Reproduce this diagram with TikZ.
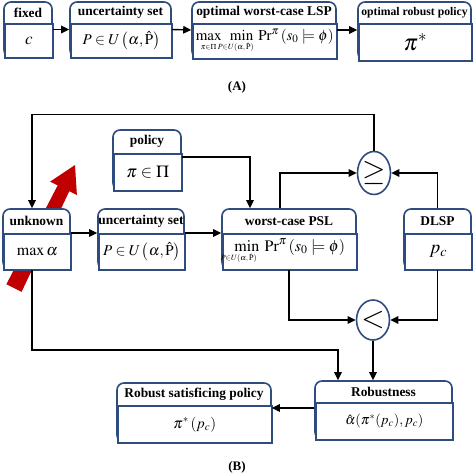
\documentclass[tikz,border=0pt]{standalone}
\usepackage{mathptmx}
\usepackage[no-math]{fontspec}
\setmainfont{Liberation Serif}
\usetikzlibrary{arrows.meta,shapes.geometric}
\definecolor{boxblue}{HTML}{2E4C7E}
\definecolor{redarr}{HTML}{C00000}
\tikzset{
 boxouter/.style={draw=boxblue, line width=1.6pt, fill=white, rounded corners=7pt, inner sep=0pt},
 boxbody/.style={draw=boxblue, line width=1.6pt, fill=white, inner sep=0pt},
 hdrtext/.style={font=\bfseries\fontsize{13.4}{14}\selectfont, inner sep=0pt},
 arr/.style={line width=1.4pt, -{Triangle[length=8pt,width=7.5pt]}},
 cmp/.style={ellipse, draw=boxblue, line width=1.6pt, fill=white, inner sep=0pt},
 lbl/.style={font=\bfseries\fontsize{13}{14}\selectfont, inner sep=0pt},
}
\newcommand\umlbox[8]{%
 \node[boxouter, minimum width={(#4-#2)*1pt}, minimum height={(#5-#3)*1pt}] (#1) at ({(#2+#4)/2},{(#3+#5)/2}) {};
 \node[boxbody, anchor=north west, minimum width={(#4-#2)*1pt}, minimum height={(#5-#6)*1pt}] (#1-b) at (#2,#6) {#8};
 \node[hdrtext] (#1-h) at ({(#2+#4)/2},{(#3+#6)/2}) {#7};
}
\newcommand\fs[1]{\fontsize{#1}{#1}\selectfont}
\newcommand\minsub[1]{\makebox[0pt][l]{\kern#1\fs{8}$P{\in}U(\alpha,\hat{\mathrm P})$}}
\newcommand\maxsub{\makebox[0pt]{\fs{7.5}$\pi{\in}\Pi$}}
\newcommand\prphi{\Pr\nolimits^{\pi}\left(s_0\models\phi\right)}
\begin{document}
\begin{tikzpicture}[x=1pt,y=-1pt]
\useasboundingbox (0,0) rectangle (474,474);
% red arrow (behind boxes)
\fill[redarr] (6.4,284.2) -- (57.7,185.4) -- (50.1,181.6) -- (75,165) -- (76.9,195) -- (69.3,191.2) -- (21.6,291.8) -- cycle;
% (A)
\umlbox{fixed}{4}{2}{52}{57}{23}{fixed}{\fs{17}$c$}
\umlbox{uncA}{70}{2}{171}{57}{23}{uncertainty set}{\fs{15}$P\in U\left(\alpha,\hat{\mathrm{P}}\right)$}
\umlbox{lsp}{192}{2}{336}{58}{23}{optimal worst-case LSP}{\fs{15}$\max\limits_{\maxsub}\;\;\mathop{\min}\limits_{\minsub{-12pt}}\;\prphi$}
\umlbox{robA}{358}{2}{471}{60}{23}{\fontsize{11.7}{13}\selectfont optimal robust policy}{\fs{23}$\pi^{*}$}
\draw[arr] (fixed.east) -- (uncA.west);
\draw[arr] (uncA.east) -- (lsp.west);
\draw[arr] (lsp.east) -- (robA.west |- lsp.east);
\node[lbl] (labA) at (237,87) {(A)};
% (B)
\umlbox{policy}{113}{130}{181}{190}{153}{policy}{\fs{17}$\pi\in\Pi$}
\umlbox{unknown}{3}{209}{70}{269}{233}{unknown}{\fs{16}$\mathrm{max}\,\alpha$}
\umlbox{uncB}{98}{209}{184}{269}{233}{uncertainty set}{\fs{15}$P\in U\left(\alpha,\hat{\mathrm{P}}\right)$}
\umlbox{worst}{222}{209}{356}{269}{233}{worst-case PSL}{\fs{16}$\mathop{\min}\limits_{\minsub{-15pt}}\;\prphi$}
\umlbox{dlsp}{404}{209}{471}{269}{233}{DLSP}{\fs{19}$p_c$}
\umlbox{rob}{315}{381}{452}{439}{402}{Robustness}{\fs{14}$\hat{\alpha}\!\left(\pi^{*}(p_c),p_c\right)$}
\umlbox{rsp}{117}{383}{271}{442}{405}{Robust satisficing policy}{\fs{15}$\pi^{*}\left(p_c\right)$}
\node[cmp, minimum width=33pt, minimum height=43pt] (ge) at (374,173) {\fs{30}$\geq$};
\node[cmp, minimum width=32pt, minimum height=40pt] (lt) at (373,320) {\fs{30}$<$};
% connectors
\draw[arr] (ge.north) -- ++(0,-36.5) -| ([xshift=-4.5pt]unknown.north);
\draw[arr] ([yshift=3pt]policy.east) -| ([xshift=-39pt]worst.north);
\draw[arr] ([xshift=-9pt]worst.north) |- (ge.west);
\draw[arr] (dlsp.north) |- (ge.east);
\draw[arr] ([yshift=6pt]unknown.east) -- ([yshift=6pt]uncB.west);
\draw[arr] ([yshift=6pt]uncB.east) -- ([yshift=6pt]worst.west);
\draw[arr] (worst.south) |- (lt.west);
\draw[arr] (dlsp.south) |- (lt.east);
\draw[arr] (lt.south) -- (lt.south |- rob.north);
\draw[arr] ([xshift=-4.5pt]unknown.south) -- ++(0,80) -| ([xshift=-45.5pt]rob.north);
\draw[arr] ([yshift=2pt]rob.west) -- ([yshift=2pt]rsp.east |- rob.west);
\node[lbl] (labB) at (237,467) {(B)};
\end{tikzpicture}
\end{document}
